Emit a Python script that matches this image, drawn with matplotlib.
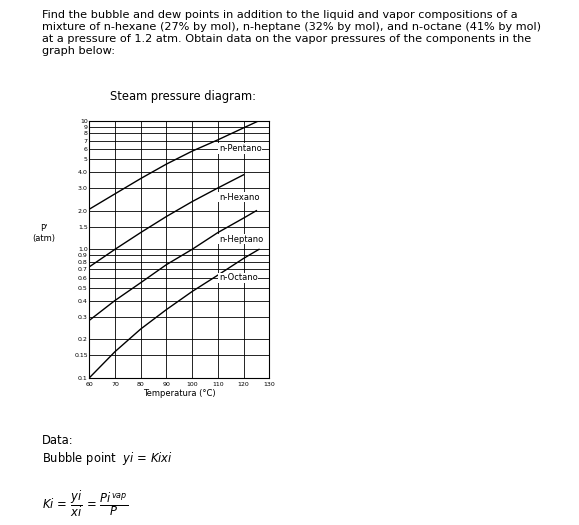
import matplotlib.pyplot as plt
import numpy as np

# vapor pressure curves (T in °C, P in atm)
t_pentano = [60, 70, 80, 90, 100, 110, 120, 126]
p_pentano = [2.05, 2.7, 3.55, 4.6, 5.8, 7.1, 8.8, 10.0]
t_hexano = [60, 70, 80, 90, 100, 110, 120]
p_hexano = [0.73, 1.0, 1.35, 1.8, 2.35, 3.0, 3.8]
t_heptano = [60, 70, 80, 90, 100, 110, 120, 125]
p_heptano = [0.28, 0.4, 0.55, 0.76, 1.0, 1.35, 1.75, 2.0]
t_octano = [60, 70, 80, 90, 100, 110, 120, 126]
p_octano = [0.1, 0.16, 0.24, 0.34, 0.47, 0.63, 0.85, 1.0]

yticks = [0.1, 0.15, 0.2, 0.3, 0.4, 0.5, 0.6, 0.7, 0.8, 0.9, 1.0, 1.5, 2.0, 3.0, 4.0, 5, 6, 7, 8, 9, 10]
ylabels = ['0.1', '0.15', '0.2', '0.3', '0.4', '0.5', '0.6', '0.7', '0.8', '0.9', '1.0', '1.5', '2.0',
           '3.0', '4.0', '5', '6', '7', '8', '9', '10']
xticks = [60, 70, 80, 90, 100, 110, 120, 130]

fig = plt.figure(figsize=(5.79, 5.25), dpi=100)

fig.text(0.072, 0.98, "Find the bubble and dew points in addition to the liquid and vapor compositions of a\n"
         "mixture of n-hexane (27% by mol), n-heptane (32% by mol), and n-octane (41% by mol)\n"
         "at a pressure of 1.2 atm. Obtain data on the vapor pressures of the components in the\n"
         "graph below:", fontsize=8.1, va='top', linespacing=1.25)
fig.text(0.19, 0.81, "Steam pressure diagram:", fontsize=8.3)

ax = fig.add_axes([0.154, 0.28, 0.311, 0.49])
ax.set_yscale('log')
ax.set_xlim(60, 130)
ax.set_ylim(0.1, 10)
ax.set_yticks(yticks)
ax.set_yticklabels(ylabels)
ax.minorticks_off()
ax.set_xticks(xticks)
ax.tick_params(labelsize=4.5, length=0, pad=1)
ax.tick_params(axis='x', pad=3)
ax.grid(True, color='black', linewidth=0.6)
for s in ax.spines.values():
    s.set_linewidth(0.8)

for t, p, name, ly in [(t_pentano, p_pentano, 'n-Pentano', 6.1),
                       (t_hexano, p_hexano, 'n-Hexano', 2.55),
                       (t_heptano, p_heptano, 'n-Heptano', 1.2),
                       (t_octano, p_octano, 'n-Octano', 0.6)]:
    ax.plot(t, p, color='black', linewidth=1.0)
    ax.text(110.5, ly, name, fontsize=6, va='center',
            bbox=dict(facecolor='white', edgecolor='none', pad=0.5))

ax.set_xlabel('Temperatura (°C)', fontsize=6, labelpad=1)
fig.text(0.075, 0.555, "P'\n(atm)", fontsize=6, ha='center', va='center')

fig.text(0.072, 0.155, "Data:", fontsize=8.3)
fig.text(0.072, 0.12, "Bubble point  $yi\\,=\\,Kixi$", fontsize=8.3)
fig.text(0.072, 0.03, "$Ki\\,=\\,\\dfrac{yi}{xi}\\,=\\,\\dfrac{Pi^{vap}}{P}$", fontsize=8.3)

fig.savefig('out.png', dpi=100)
